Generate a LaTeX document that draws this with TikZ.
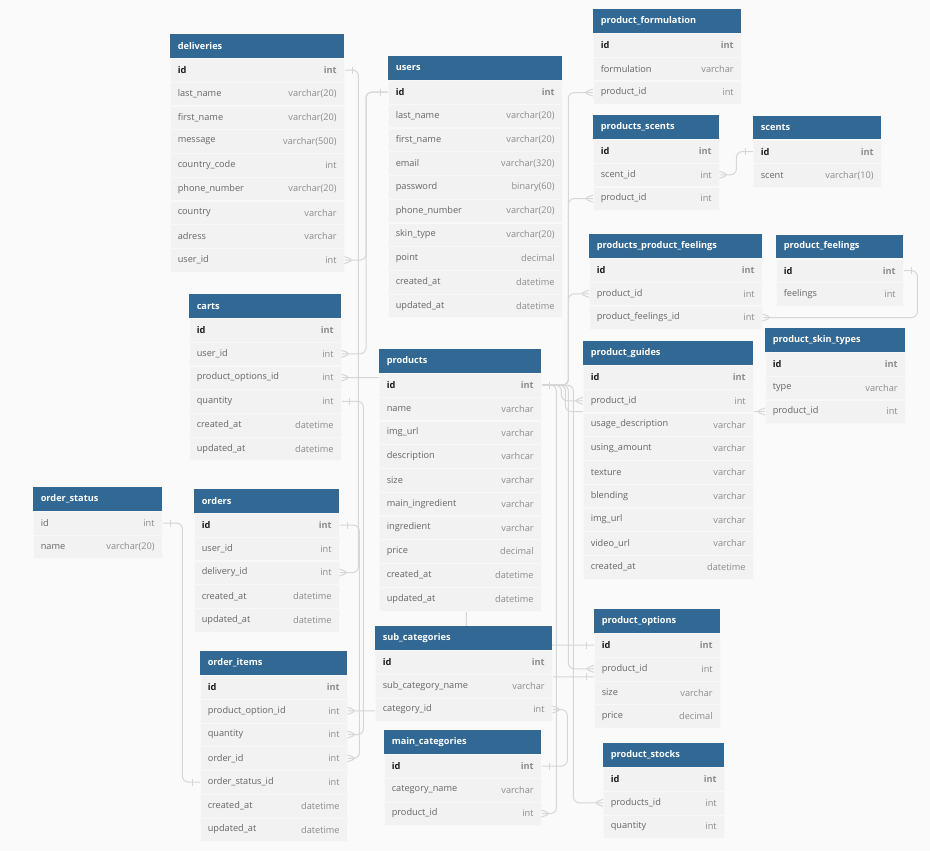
\documentclass[tikz,border=0pt]{standalone}
\usepackage{fontspec}
\setmainfont{Open Sans}
\usetikzlibrary{calc}

\definecolor{pagebg}{HTML}{FAFAFA}
\definecolor{headblue}{HTML}{316894}
\definecolor{rowfill}{HTML}{F2F2F2}
\definecolor{rowline}{HTML}{F8F8F8}
\definecolor{fieldgray}{HTML}{666666}
\definecolor{typegray}{HTML}{8C8C8C}
\definecolor{keyblack}{HTML}{1A1A1A}
\definecolor{linkgray}{HTML}{D6D6D6}

\pgfdeclarelayer{bg}
\pgfdeclarelayer{links}
\pgfsetlayers{bg,links,main}

\newcommand{\tblfont}{\fontsize{6.9}{8}\selectfont}

\tikzset{
  tblhead/.style={fill=headblue, minimum height=17.6pt, inner sep=0pt, anchor=north west},
  tblrow/.style={fill=rowfill, draw=rowline, line width=0.3pt, minimum height=17.8pt, inner sep=0pt, anchor=north west},
  tbltitle/.style={text=white, font=\tblfont\bfseries, anchor=west, inner sep=0pt},
  tblfield/.style={text=fieldgray, font=\tblfont, anchor=west, inner sep=0pt},
  tbltype/.style={text=typegray, font=\tblfont, anchor=east, inner sep=0pt},
  link/.style={draw=linkgray, line width=0.75pt, rounded corners=4.5pt},
}

% #1 name, #2 top left (px), #3 width (px), #4 title, #5 field/type/key
\newcommand{\dbtable}[5]{%
  \node[tblhead, minimum width=#3*0.75pt] (#1) at (#2) {};
  \node[tbltitle] (#1-title) at ($(#1.west)+(7.5,0)$) {#4};
  \foreach \f/\t/\k [count=\i] in {#5} {
    \node[tblrow, minimum width=#3*0.75pt] (#1-\i) at ($(#1.south west)+(0,{(\i-1)*23.75})$) {};
    \node[tblfield] at ($(#1-\i.west)+(7.5,0)$) {\ifnum\k=1 \bfseries\color{keyblack}\fi\f};
    \node[tbltype] at ($(#1-\i.east)+(-7.5,0)$) {\ifnum\k=1 \bfseries\fi\t};
  }
}

% relation ends
\newcommand{\onemark}[2]{\draw[link] ($(#1)+(#2*8,-3.5)$) -- ++(0,7);}
\newcommand{\manymark}[2]{\draw[link] ($(#1)+(0,-3.5)$) -- ($(#1)+(#2*10,0)$) -- ($(#1)+(0,3.5)$);}

\begin{document}
\begin{tikzpicture}[x=0.75pt,y=-0.75pt]
  \useasboundingbox (0,0) rectangle (930,851);
  \begin{pgfonlayer}{bg}
    \fill[pagebg] (0,0) rectangle (930,851);
  \end{pgfonlayer}

  \dbtable{deliv}{170,34}{174}{deliveries}{id/int/1, last\_name/varchar(20)/0,
    first\_name/varchar(20)/0, message/varchar(500)/0, country\_code/int/0,
    phone\_number/varchar(20)/0, country/varchar/0, adress/varchar/0, user\_id/int/0}
  \dbtable{users}{388,56}{174}{users}{id/int/1, last\_name/varchar(20)/0,
    first\_name/varchar(20)/0, email/varchar(320)/0, password/binary(60)/0,
    phone\_number/varchar(20)/0, skin\_type/varchar(20)/0, point/decimal/0,
    created\_at/datetime/0, updated\_at/datetime/0}
  \dbtable{pformul}{593,9}{148}{product\_formulation}{id/int/1,
    formulation/varchar/0, product\_id/int/0}
  \dbtable{pscents}{593,115}{126}{products\_scents}{id/int/1, scent\_id/int/0,
    product\_id/int/0}
  \dbtable{scents}{753,115.5}{128}{scents}{id/int/1, scent/varchar(10)/0}
  \dbtable{ppfeel}{589,234}{173}{products\_product\_feelings}{id/int/1,
    product\_id/int/0, product\_feelings\_id/int/0}
  \dbtable{pfeel}{776,234.5}{127}{product\_feelings}{id/int/1, feelings/int/0}
  \dbtable{pskin}{765,328}{140}{product\_skin\_types}{id/int/1, type/varchar/0,
    product\_id/int/0}
  \dbtable{pguides}{583,341}{170}{product\_guides}{id/int/1, product\_id/int/0,
    usage\_description/varchar/0, using\_amount/varchar/0, texture/varchar/0,
    blending/varchar/0, img\_url/varchar/0, video\_url/varchar/0,
    created\_at/datetime/0}
  \dbtable{carts}{189,294}{152}{carts}{id/int/1, user\_id/int/0,
    product\_options\_id/int/0, quantity/int/0, created\_at/datetime/0,
    updated\_at/datetime/0}
  \dbtable{products}{379,349}{162}{products}{id/int/1, name/varchar/0,
    img\_url/varchar/0, description/varhcar/0, size/varchar/0,
    main\_ingredient/varchar/0, ingredient/varchar/0, price/decimal/0,
    created\_at/datetime/0, updated\_at/datetime/0}
  \dbtable{ostatus}{33,487}{129}{order\_status}{id/int/0, name/varchar(20)/0}
  \dbtable{orders}{194,489}{145}{orders}{id/int/1, user\_id/int/0,
    delivery\_id/int/0, created\_at/datetime/0, updated\_at/datetime/0}
  \dbtable{oitems}{200,651}{147}{order\_items}{id/int/1,
    product\_option\_id/int/0, quantity/int/0, order\_id/int/0,
    order\_status\_id/int/0, created\_at/datetime/0, updated\_at/datetime/0}
  \dbtable{subcat}{375,626}{177}{sub\_categories}{id/int/1,
    sub\_category\_name/varchar/0, category\_id/int/0}
  \dbtable{maincat}{384,730}{157}{main\_categories}{id/int/1,
    category\_name/varchar/0, product\_id/int/0}
  \dbtable{poptions}{594,609}{126}{product\_options}{id/int/1,
    product\_id/int/0, size/varchar/0, price/decimal/0}
  \dbtable{pstocks}{603,743}{121}{product\_stocks}{id/int/1,
    products\_id/int/0, quantity/int/0}

  \coordinate (poptions-in) at ($(poptions-2.west)+(0,8)$);

  \begin{pgfonlayer}{links}
    % users, deliveries, carts, orders
    \draw[link] (users-1.west) -- ++(-22,0) |- (deliv-9.east);
    \draw[link] (users-1.west) -- ++(-22,0) |- (carts-2.east);
    \draw[link] (deliv-1.east) -- ++(14,0) |- (orders-3.east);
    \draw[link] (carts-4.east) -- ++(22,0) |- (oitems-3.east);
    \draw[link] (orders-1.east) -- ++(20,0) |- (oitems-4.east);
    \draw[link] (ostatus-1.east) -- ++(20,0) |- (oitems-5.west);
    \draw[link] (carts-3.east) -- ++(125,0) |- (poptions-1.west);
    \draw[link] (oitems-2.east) -- ++(133,0) |- (poptions-in);
    % products
    \draw[link] (products-1.east) -- ++(27,0) |- (pformul-3.west);
    \draw[link] (products-1.east) -- ++(27,0) |- (pscents-3.west);
    \draw[link] (products-1.east) -- ++(27,0) |- (ppfeel-2.west);
    \draw[link] (products-1.east) -- ++(20,0) |- (pguides-2.west);
    \draw[link] (products-1.east) -- ++(24,0) |- (pskin-3.west);
    \draw[link] (products-1.east) -- ++(27,0) |- (poptions-2.west);
    \draw[link] (products-1.east) -- ++(32,0) |- (pstocks-2.west);
    \draw[link] (products-1.east) -- ++(15,0) |- (maincat-3.east);
    \draw[link] (maincat-1.east) -- ++(26,0) |- (subcat-3.east);
    % scents, feelings
    \draw[link] (pscents-2.east) -- ++(17,0) |- (scents-1.west);
    \draw[link] (ppfeel-3.east) -- ++(155,0) |- (pfeel-1.east);
  \end{pgfonlayer}

  \onemark{users-1.west}{-1}
  \manymark{deliv-9.east}{1}
  \manymark{carts-2.east}{1}
  \onemark{deliv-1.east}{1}
  \manymark{orders-3.east}{1}
  \onemark{carts-4.east}{1}
  \manymark{oitems-3.east}{1}
  \onemark{orders-1.east}{1}
  \manymark{oitems-4.east}{1}
  \onemark{ostatus-1.east}{1}
  \onemark{oitems-5.west}{-1}
  \manymark{carts-3.east}{1}
  \onemark{poptions-1.west}{-1}
  \manymark{oitems-2.east}{1}
  \onemark{poptions-in}{-1}

  \onemark{products-1.east}{1}
  \manymark{pformul-3.west}{-1}
  \manymark{pscents-3.west}{-1}
  \manymark{ppfeel-2.west}{-1}
  \manymark{pguides-2.west}{-1}
  \manymark{pskin-3.west}{-1}
  \manymark{poptions-2.west}{-1}
  \manymark{pstocks-2.west}{-1}
  \manymark{maincat-3.east}{1}
  \onemark{maincat-1.east}{1}
  \manymark{subcat-3.east}{1}

  \manymark{pscents-2.east}{1}
  \onemark{scents-1.west}{-1}
  \manymark{ppfeel-3.east}{1}
  \onemark{pfeel-1.east}{1}
\end{tikzpicture}
\end{document}
